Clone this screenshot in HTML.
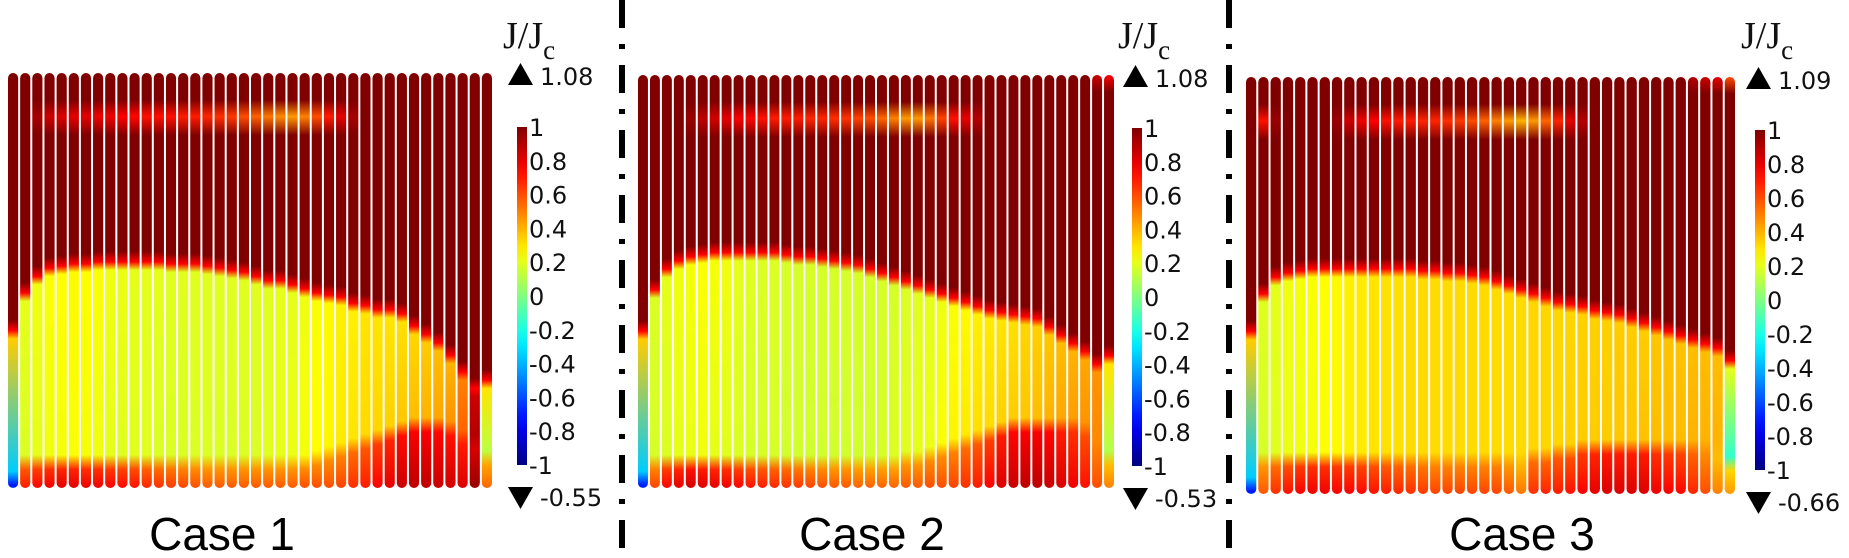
<!DOCTYPE html>
<html><head><meta charset="utf-8"><style>
html,body{margin:0;padding:0;background:#fff;}
svg{display:block;}
text{font-family:"DejaVu Sans","Liberation Sans",sans-serif;}
</style></head><body>
<svg id="fig" width="1849" height="558" viewBox="0 0 1849 558" xmlns="http://www.w3.org/2000/svg">
<defs id="defs"></defs>
</svg>
<script>
// ---------- data (per column, 40 columns per case) ----------
const caseLabels = ["Case 1", "Case 2", "Case 3"];
const maxLabels = ["1.08", "1.08", "1.09"];
const minLabels = ["-0.55", "-0.53", "-0.66"];
const colorbarTicks = [1, 0.8, 0.6, 0.4, 0.2, 0, -0.2, -0.4, -0.6, -0.8, -1];
const colorbarTickLabels = ["1", "0.8", "0.6", "0.4", "0.2", "0", "-0.2", "-0.4", "-0.6", "-0.8", "-1"];

// fraction of height where dark-red region ends
const boundary1 = [0.62,0.53,0.49,0.47,0.465,0.46,0.46,0.455,0.455,0.455,0.455,0.455,0.455,0.46,0.46,0.46,0.465,0.47,0.475,0.48,0.49,0.50,0.50,0.51,0.52,0.53,0.535,0.54,0.555,0.56,0.57,0.57,0.58,0.61,0.63,0.65,0.68,0.72,0.76,0.74];
const boundary2 = [0.62,0.52,0.47,0.45,0.44,0.435,0.43,0.43,0.43,0.43,0.43,0.43,0.435,0.44,0.44,0.445,0.45,0.455,0.46,0.47,0.48,0.49,0.50,0.51,0.52,0.53,0.54,0.55,0.56,0.57,0.575,0.58,0.585,0.59,0.61,0.63,0.65,0.67,0.70,0.68];
const boundary3 = [0.61,0.52,0.48,0.47,0.465,0.46,0.46,0.46,0.46,0.46,0.46,0.46,0.46,0.46,0.465,0.465,0.47,0.47,0.475,0.48,0.49,0.50,0.51,0.52,0.53,0.54,0.545,0.55,0.56,0.565,0.57,0.58,0.59,0.60,0.61,0.62,0.63,0.64,0.65,0.68];
// interior value just below boundary / near bottom of interior
const inTop1 = [0.35,0.2,0.22,0.24,0.25,0.26,0.25,0.24,0.22,0.21,0.2,0.2,0.2,0.19,0.19,0.19,0.19,0.19,0.19,0.19,0.19,0.19,0.2,0.2,0.22,0.24,0.26,0.28,0.28,0.3,0.3,0.3,0.31,0.33,0.35,0.38,0.4,0.5,0.85,0.3];
const inBot1 = [-0.35,0.18,0.2,0.22,0.23,0.24,0.23,0.22,0.2,0.19,0.19,0.19,0.18,0.18,0.18,0.18,0.18,0.18,0.18,0.18,0.18,0.19,0.2,0.21,0.23,0.25,0.27,0.29,0.3,0.32,0.33,0.34,0.36,0.38,0.4,0.42,0.46,0.55,0.9,0.12];
const inTop2 = [0.35,0.18,0.2,0.22,0.23,0.24,0.23,0.22,0.2,0.19,0.18,0.18,0.17,0.17,0.17,0.17,0.17,0.17,0.17,0.17,0.17,0.17,0.18,0.19,0.2,0.22,0.24,0.26,0.28,0.29,0.3,0.31,0.33,0.34,0.36,0.38,0.4,0.42,0.46,0.3];
const inBot2 = [-0.35,0.17,0.18,0.2,0.21,0.22,0.2,0.19,0.18,0.17,0.17,0.17,0.16,0.16,0.16,0.16,0.16,0.16,0.16,0.16,0.17,0.18,0.19,0.2,0.21,0.24,0.27,0.29,0.31,0.32,0.34,0.35,0.36,0.38,0.4,0.42,0.44,0.46,0.48,0.1];
const inTop3 = [0.35,0.19,0.2,0.22,0.23,0.24,0.25,0.26,0.28,0.29,0.3,0.31,0.31,0.32,0.32,0.32,0.32,0.32,0.32,0.32,0.32,0.32,0.32,0.33,0.33,0.33,0.33,0.34,0.34,0.34,0.35,0.35,0.35,0.36,0.37,0.37,0.38,0.38,0.38,0.2];
const inBot3 = [-0.35,0.17,0.19,0.21,0.22,0.23,0.24,0.26,0.28,0.29,0.3,0.31,0.31,0.32,0.32,0.32,0.32,0.32,0.32,0.32,0.32,0.32,0.32,0.33,0.33,0.33,0.34,0.35,0.35,0.35,0.36,0.36,0.37,0.38,0.38,0.38,0.4,0.4,0.4,-0.15];
// fraction where bottom band starts, and its value
const lowStart1 = [0.97,0.93,0.93,0.93,0.93,0.93,0.93,0.93,0.93,0.93,0.93,0.93,0.93,0.93,0.93,0.93,0.93,0.93,0.93,0.93,0.93,0.93,0.93,0.93,0.93,0.92,0.91,0.9,0.89,0.88,0.87,0.86,0.85,0.84,0.84,0.84,0.85,0.87,0.88,0.92];
const lowVal1 = [-0.6,0.7,0.75,0.78,0.8,0.8,0.78,0.78,0.76,0.74,0.72,0.68,0.66,0.64,0.62,0.6,0.58,0.58,0.58,0.58,0.58,0.58,0.58,0.58,0.6,0.6,0.6,0.62,0.66,0.7,0.75,0.8,0.85,0.88,0.88,0.86,0.84,0.82,0.95,0.55];
const lowStart2 = [0.97,0.93,0.93,0.93,0.93,0.93,0.93,0.93,0.93,0.93,0.93,0.93,0.93,0.93,0.93,0.93,0.93,0.93,0.93,0.93,0.93,0.93,0.92,0.92,0.91,0.9,0.89,0.88,0.87,0.86,0.85,0.84,0.84,0.84,0.84,0.84,0.84,0.85,0.86,0.92];
const lowVal2 = [-0.6,0.62,0.75,0.8,0.84,0.82,0.8,0.78,0.75,0.72,0.7,0.68,0.66,0.64,0.62,0.6,0.58,0.58,0.56,0.56,0.56,0.56,0.58,0.58,0.6,0.6,0.62,0.66,0.7,0.75,0.82,0.86,0.88,0.88,0.86,0.82,0.78,0.72,0.6,0.5];
const lowStart3 = [0.97,0.91,0.91,0.91,0.91,0.91,0.91,0.91,0.91,0.91,0.91,0.91,0.91,0.91,0.91,0.91,0.91,0.91,0.91,0.91,0.91,0.91,0.91,0.9,0.9,0.89,0.89,0.88,0.88,0.88,0.88,0.88,0.88,0.88,0.88,0.88,0.88,0.88,0.89,0.92];
const lowVal3 = [-0.6,0.58,0.66,0.72,0.76,0.78,0.78,0.76,0.76,0.74,0.72,0.7,0.68,0.66,0.64,0.62,0.62,0.62,0.62,0.62,0.62,0.58,0.52,0.66,0.68,0.7,0.72,0.76,0.8,0.82,0.82,0.82,0.82,0.78,0.76,0.74,0.68,0.6,0.5,0.45];
// hot band near top (value at band, 1 = no band)
const band1 = [1,1,0.92,0.85,0.82,0.8,0.8,0.78,0.78,0.75,0.74,0.72,0.72,0.72,0.7,0.7,0.68,0.66,0.64,0.6,0.56,0.52,0.48,0.45,0.5,0.6,0.7,0.8,0.92,1,1,1,1,1,1,1,1,1,1,1];
const band2 = [1,1,1,1,0.95,0.88,0.84,0.8,0.76,0.74,0.72,0.7,0.7,0.7,0.68,0.68,0.66,0.65,0.62,0.6,0.55,0.5,0.45,0.45,0.52,0.62,0.72,0.8,0.9,1,1,1,1,1,1,1,1,1,1,1];
const band3 = [1,0.72,0.95,1,1,1,1,0.95,0.85,0.78,0.75,0.72,0.7,0.7,0.68,0.68,0.66,0.64,0.6,0.56,0.5,0.45,0.4,0.45,0.55,0.68,0.8,0.9,1,1,1,1,1,1,1,1,1,1,1,1];
// value at the very top cap
const cap1 = [1,1,1,1,1,1,1,1,1,1,1,1,1,1,1,1,1,1,1,1,1,1,1,1,1,1,1,1,1,1,1,1,1,1,1,1,1,1,1,1];
const cap2 = [1,1,1,1,1,1,1,1,1,1,1,1,1,1,1,1,1,1,1,1,1,1,1,1,1,1,1,1,1,1,1,1,1,1,1,1,1,1,0.85,0.75];
const cap3 = [1,1,1,1,1,1,1,1,1,1,1,1,1,1,1,1,1,1,1,1,1,1,1,1,1,1,1,1,1,1,1,1,1,1,1,1,0.9,0.85,0.8,0.6];

const panels = [
  {b:boundary1,it:inTop1,ib:inBot1,ls:lowStart1,lv:lowVal1,band:band1,cap:cap1},
  {b:boundary2,it:inTop2,ib:inBot2,ls:lowStart2,lv:lowVal2,band:band2,cap:cap2},
  {b:boundary3,it:inTop3,ib:inBot3,ls:lowStart3,lv:lowVal3,band:band3,cap:cap3}
];
// ---------- layout ----------
const geom = [
  {x0:8, x1:492, y0:73, y1:488, cbx:517, cby0:127, cby1:465, cx:222, dash:null},
  {x0:638, x1:1114, y0:75, y1:488, cbx:1132, cby0:128, cby1:466, cx:872, dash:622},
  {x0:1246, x1:1735, y0:77, y1:494, cbx:1755, cby0:130, cby1:470, cx:1522, dash:1229}
];
const NS = "http://www.w3.org/2000/svg";
const svg = document.getElementById('fig');
const defs = document.getElementById('defs');

function jet(v){
  let t = (Math.max(-1, Math.min(1, v)) + 1) / 2;
  const c = x => Math.round(255 * Math.max(0, Math.min(1, x)));
  return `rgb(${c(1.5-Math.abs(4*t-3))},${c(1.5-Math.abs(4*t-2))},${c(1.5-Math.abs(4*t-1))})`;
}
function el(tag, attrs, parent){
  const e = document.createElementNS(NS, tag);
  for (const k in attrs) e.setAttribute(k, attrs[k]);
  (parent || svg).appendChild(e);
  return e;
}
function addStop(g, off, v){
  el('stop', {offset: Math.max(0, Math.min(1, off)), 'stop-color': jet(v)}, g);
}

panels.forEach((p, pi) => {
  const g = geom[pi];
  const grp = el('g', {});
  
  
  const n = p.b.length;
  const pitch = (g.x1 - g.x0 + 2) / n;
  const w = pitch - 2;
  const xScale = i => g.x0 + i * pitch;
  for (let i = 0; i < n; i++) {
    const gid = 'g' + pi + '_' + i;
    const lg = el('linearGradient', {id: gid, x1: 0, y1: 0, x2: 0, y2: 1}, defs);
    const b = p.b[i], ls = p.ls[i];
    addStop(lg, 0, p.cap[i]);
    addStop(lg, 0.04, 1);
    if (p.band[i] < 1) {
      addStop(lg, 0.065, 1);
      addStop(lg, 0.105, p.band[i]);
      addStop(lg, 0.15, 1);
    }
    addStop(lg, b - 0.025, 1);
    addStop(lg, b, 0.75);
    addStop(lg, b + 0.02, p.it[i]);
    addStop(lg, ls - 0.01, p.ib[i]);
    addStop(lg, ls + 0.025, p.lv[i] - 0.12);
    addStop(lg, 1, p.lv[i]);
    const r = el('rect', {x: xScale(i).toFixed(2), y: g.y0, width: w.toFixed(2), height: g.y1 - g.y0, rx: w/2, ry: w/2, fill: 'url(#' + gid + ')'}, grp);
    
    
  }
  // colorbar
  const cg = el('linearGradient', {id: 'cb' + pi, x1: 0, y1: 0, x2: 0, y2: 1}, defs);
  for (let k = 0; k <= 20; k++) addStop(cg, k/20, 1 - 2*k/20);
  const cb = el('rect', {x: g.cbx, y: g.cby0, width: 10, height: g.cby1 - g.cby0, fill: 'url(#cb' + pi + ')'});
  
  
  const cyScale = v => g.cby0 + (1 - v) / 2 * (g.cby1 - g.cby0);
  colorbarTicks.forEach((v, k) => {
    const t = el('text', {x: g.cbx + 12, y: cyScale(v) + 9, 'font-size': 24, fill: '#111'});
    t.textContent = colorbarTickLabels[k];
    
    
  });
  // title J/Jc
  const tt = el('text', {x: g.cbx - 14, y: 48, 'font-size': 38, fill: '#111', style: 'font-family:"Liberation Serif",serif'});
  tt.innerHTML = 'J/J<tspan font-size="27" dy="11">c</tspan>';
  
  
  // max/min markers
  const ty = g.y0 - 10;
  el('polygon', {points: `${g.cbx-9},${ty+22} ${g.cbx+16},${ty+22} ${g.cbx+3.5},${ty}`, fill: '#000'});
  const mx = el('text', {x: g.cbx + 23, y: ty + 22, 'font-size': 24, fill: '#111'});
  mx.textContent = maxLabels[pi];
  
  
  const by = g.cby1 + 22;
  el('polygon', {points: `${g.cbx-9},${by} ${g.cbx+16},${by} ${g.cbx+3.5},${by+22}`, fill: '#000'});
  const mn = el('text', {x: g.cbx + 23, y: by + 19, 'font-size': 24, fill: '#111'});
  mn.textContent = minLabels[pi];
  
  
  // case label
  const cl = el('text', {x: g.cx, y: 550, 'font-size': 46, 'text-anchor': 'middle', fill: '#000', style: 'font-family:"Liberation Sans",sans-serif'});
  cl.textContent = caseLabels[pi];
  
  
  // dash-dot separator
  if (g.dash !== null) {
    const dl = el('line', {x1: g.dash, y1: 0, x2: g.dash, y2: 558, stroke: '#000', 'stroke-width': 6, 'stroke-dasharray': '28 16 5 16'});
    
    
  }
});
</script>
</body></html>
